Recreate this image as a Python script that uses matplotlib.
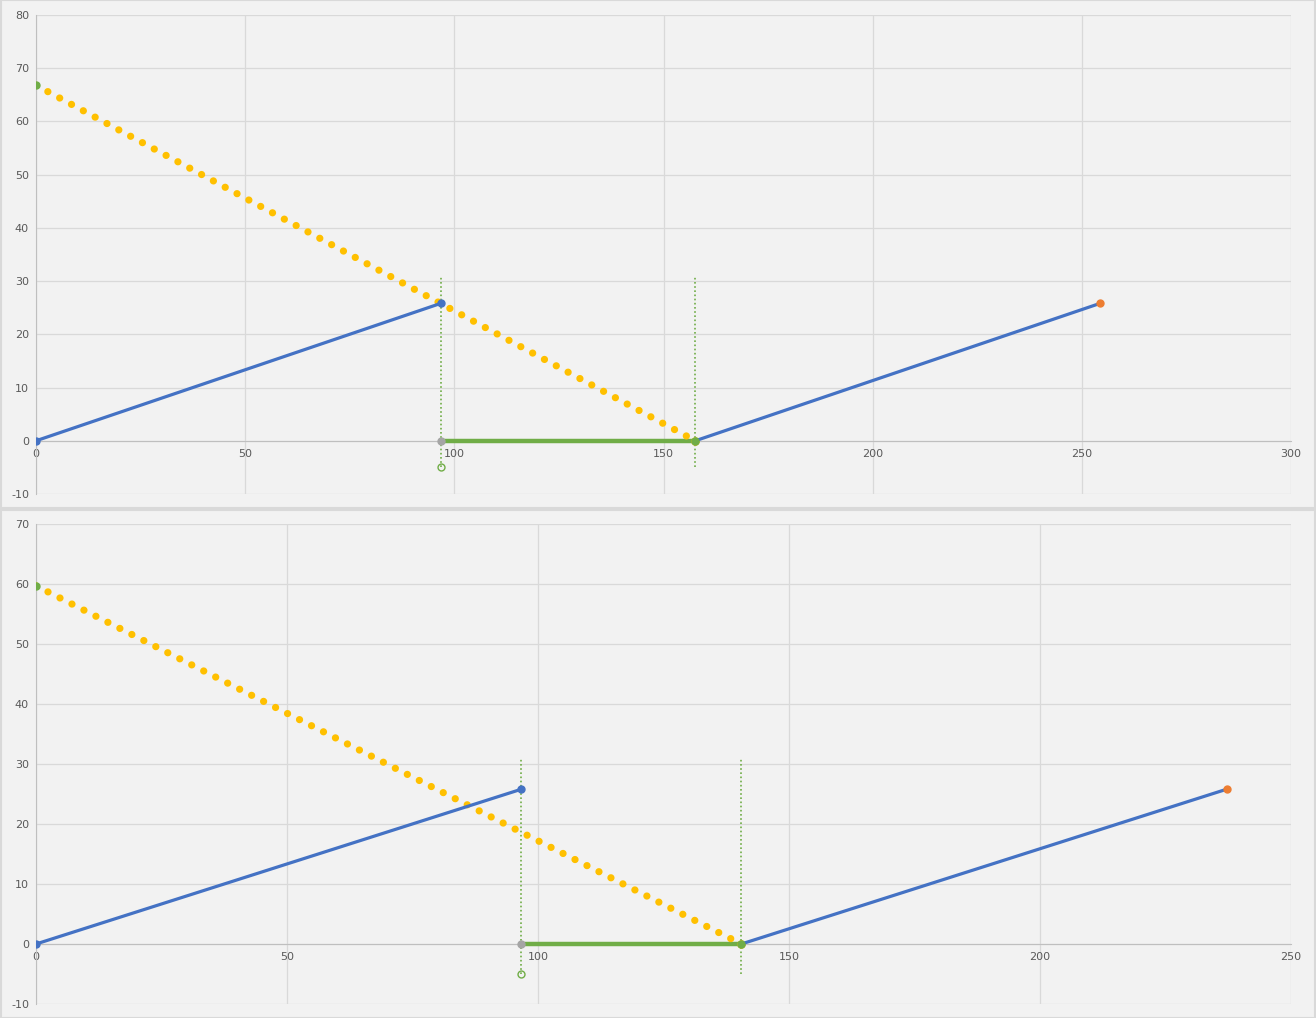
import matplotlib.pyplot as plt
from matplotlib.patches import Rectangle

plt.rcParams['axes.unicode_minus'] = False

# colores estilo Excel
AZUL = '#4472C4'
NARANJA = '#ED7D31'
GRIS = '#A5A5A5'
AMARILLO = '#FFC000'
VERDE = '#70AD47'
FONDO = '#F2F2F2'
REJILLA = '#D9D9D9'
TEXTO = '#595959'

# Datos grafico superior
sup_x_lim = (0, 300)
sup_y_lim = (-10, 80)
sup_x_ticks = [0, 50, 100, 150, 200, 250, 300]
sup_y_ticks = [-10, 0, 10, 20, 30, 40, 50, 60, 70, 80]
sup_subida1_x = [0, 96.7]
sup_subida1_y = [0, 25.8]
sup_bajada_x = [0, 157.6]
sup_bajada_y = [66.8, 0]
sup_plano_x = [96.7, 157.6]
sup_plano_y = [0, 0]
sup_subida2_x = [157.6, 254.3]
sup_subida2_y = [0, 25.8]
sup_verticales_x = [96.7, 157.6]
sup_verticales_y = [-5, 31]
sup_hueco = (96.7, -5)

# Datos grafico inferior
inf_x_lim = (0, 250)
inf_y_lim = (-10, 70)
inf_x_ticks = [0, 50, 100, 150, 200, 250]
inf_y_ticks = [-10, 0, 10, 20, 30, 40, 50, 60, 70]
inf_subida1_x = [0, 96.7]
inf_subida1_y = [0, 25.8]
inf_bajada_x = [0, 140.5]
inf_bajada_y = [59.7, 0]
inf_plano_x = [96.7, 140.5]
inf_plano_y = [0, 0]
inf_subida2_x = [140.5, 237.2]
inf_subida2_y = [0, 25.8]
inf_verticales_x = [96.7, 140.5]
inf_verticales_y = [-5, 31]
inf_hueco = (96.7, -5)


def dibujar(ax, x_lim, y_lim, x_ticks, y_ticks, subida1, bajada, plano, subida2,
            verticales_x, verticales_y, hueco):
    ax.set_facecolor(FONDO)
    ax.set_xlim(*x_lim)
    ax.set_ylim(*y_lim)
    ax.set_xticks(x_ticks)
    ax.set_yticks(y_ticks)
    ax.grid(True, color=REJILLA, linewidth=0.9)
    ax.set_axisbelow(True)
    for lado in ['top', 'right']:
        ax.spines[lado].set_visible(False)
    ax.spines['left'].set_color('#BFBFBF')
    ax.spines['bottom'].set_color('#BFBFBF')
    ax.spines['bottom'].set_position(('data', 0))
    ax.tick_params(length=0, labelsize=8, colors=TEXTO, pad=5)
    ax.tick_params(axis='x', pad=6)

    # lineas verticales punteadas
    for vx in verticales_x:
        ax.plot([vx, vx], verticales_y, color=VERDE, linewidth=1.2,
                linestyle=(0, (1, 1.5)), zorder=3)
    ax.plot(*hueco, marker='o', markersize=5, markerfacecolor='none',
            markeredgecolor=VERDE, markeredgewidth=1, zorder=4)

    # tramo plano verde
    ax.plot(plano[0], plano[1], color=VERDE, linewidth=3.2,
            solid_capstyle='butt', zorder=4)
    ax.plot(plano[0][0], plano[1][0], 'o', color=GRIS, markersize=5, zorder=5)
    ax.plot(plano[0][1], plano[1][1], 'o', color=VERDE, markersize=5, zorder=5)

    # recta descendente amarilla punteada
    ax.plot(bajada[0], bajada[1], color=AMARILLO, linewidth=5.2,
            linestyle=(0, (0.01, 1.85)), dash_capstyle='round', zorder=5)
    ax.plot(bajada[0][0], bajada[1][0], 'o', color=VERDE, markersize=5, zorder=6)
    ax.plot(bajada[0][1], bajada[1][1], 'o', color=AMARILLO, markersize=5, zorder=6)

    # tramos ascendentes azules
    ax.plot(subida1[0], subida1[1], color=AZUL, linewidth=2.3, zorder=6)
    ax.plot(subida1[0], subida1[1], 'o', color=AZUL, markersize=5, zorder=7)
    ax.plot(subida2[0], subida2[1], color=AZUL, linewidth=2.3, zorder=6)
    ax.plot(subida2[0][0], subida2[1][0], 'o', color=VERDE, markersize=5, zorder=7)
    ax.plot(subida2[0][1], subida2[1][1], 'o', color=NARANJA, markersize=5, zorder=7)


W, H = 1316, 1018
fig = plt.figure(figsize=(W / 100, H / 100), dpi=100, facecolor=FONDO)

# bordes de las areas de grafico
fig.patches.append(Rectangle((0.5 / W, 1 - 508 / H), (W - 1.5) / W, 507.5 / H,
                             transform=fig.transFigure, fill=False,
                             edgecolor=REJILLA, linewidth=1.5))
fig.patches.append(Rectangle((0.5 / W, 0.5 / H), (W - 1.5) / W, 507.5 / H,
                             transform=fig.transFigure, fill=False,
                             edgecolor=REJILLA, linewidth=1.5))

ax1 = fig.add_axes([36 / W, 1 - 494 / H, (1291 - 36) / W, (494 - 15) / H])
dibujar(ax1, sup_x_lim, sup_y_lim, sup_x_ticks, sup_y_ticks,
        (sup_subida1_x, sup_subida1_y), (sup_bajada_x, sup_bajada_y),
        (sup_plano_x, sup_plano_y), (sup_subida2_x, sup_subida2_y),
        sup_verticales_x, sup_verticales_y, sup_hueco)

ax2 = fig.add_axes([36 / W, 1 - 1004 / H, (1291 - 36) / W, (1004 - 524) / H])
dibujar(ax2, inf_x_lim, inf_y_lim, inf_x_ticks, inf_y_ticks,
        (inf_subida1_x, inf_subida1_y), (inf_bajada_x, inf_bajada_y),
        (inf_plano_x, inf_plano_y), (inf_subida2_x, inf_subida2_y),
        inf_verticales_x, inf_verticales_y, inf_hueco)

fig.savefig('out.png', dpi=100, facecolor=FONDO)
